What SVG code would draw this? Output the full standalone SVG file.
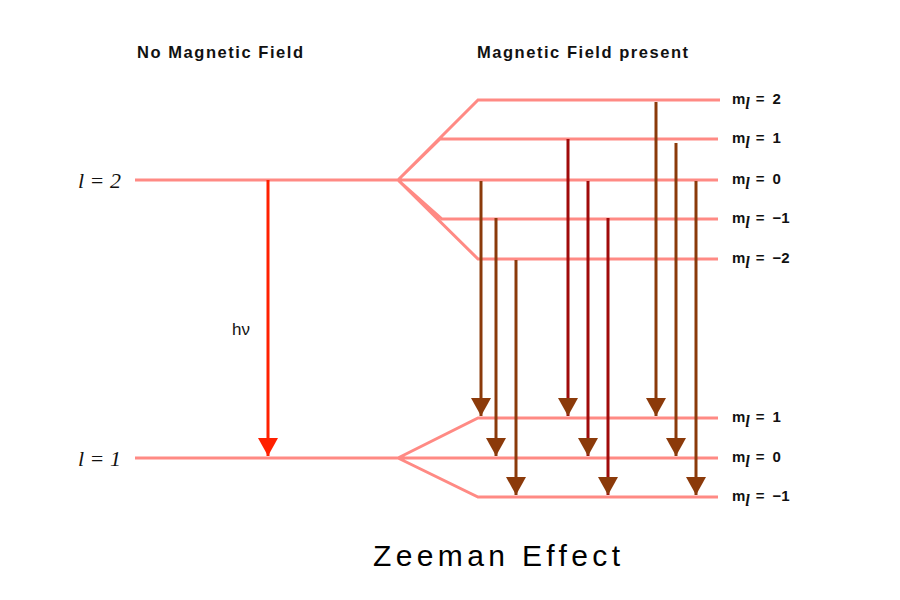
<svg xmlns="http://www.w3.org/2000/svg" width="900" height="600" viewBox="0 0 900 600">
<defs>
<style>
.lv{stroke:#FF8A84;stroke-width:3;fill:none}
.t{font-family:"Liberation Sans",Arial,sans-serif;font-weight:bold;font-size:16.5px;fill:#111}
.ml{font-family:"Liberation Sans",Arial,sans-serif;font-weight:bold;font-size:15px;fill:#111}
.sub{font-family:"Liberation Serif",serif;font-style:italic;font-size:16px}
.lab{font-family:"Liberation Serif",serif;font-style:italic;font-size:22px;fill:#111}
.br{stroke:#8B3A0A;stroke-width:3}
.dr{stroke:#A00A0A;stroke-width:3}
</style>
<marker id="ah" markerWidth="20" markerHeight="18" viewBox="0 0 20 18" refX="10" refY="18" markerUnits="userSpaceOnUse"><path d="M0 0H20L10 18Z" fill="#8B3A0A"/></marker>
<marker id="ahr" markerWidth="20" markerHeight="18" viewBox="0 0 20 18" refX="10" refY="18" markerUnits="userSpaceOnUse"><path d="M0 0H20L10 18Z" fill="#FF2000"/></marker>
</defs>
<rect width="900" height="600" fill="#fff"/>
<g id="levels">
<path class="lv" d="M135 180H718M398 180L478 100H720M398 180L440 139H718M398 180L442 219H718M398 180L478 259H718"/>
<path class="lv" d="M135 458H718M398 458L478 418H718M398 458L478 497H718"/>
</g>
<g id="titles">
<text class="t" x="137" y="58" textLength="166">No Magnetic Field</text>
<text class="t" x="477" y="58" textLength="211">Magnetic Field present</text>
<text class="lab" x="78" y="188">l = 2</text>
<text class="lab" x="78" y="466">l = 1</text>
<text x="232" y="335" font-family="Liberation Sans,sans-serif" font-size="17" fill="#111">hν</text>
<text x="373" y="566" textLength="247" font-family="Liberation Sans,Arial,sans-serif" font-size="30" fill="#000">Zeeman Effect</text>
</g>
<g id="mlabels" class="ml">
<text x="732" y="104">m<tspan class="sub" dy="5">l</tspan><tspan dy="-5" dx="6">=</tspan><tspan dx="8">2</tspan></text>
<text x="732" y="143">m<tspan class="sub" dy="5">l</tspan><tspan dy="-5" dx="6">=</tspan><tspan dx="8">1</tspan></text>
<text x="732" y="184">m<tspan class="sub" dy="5">l</tspan><tspan dy="-5" dx="6">=</tspan><tspan dx="8">0</tspan></text>
<text x="732" y="223">m<tspan class="sub" dy="5">l</tspan><tspan dy="-5" dx="6">=</tspan><tspan dx="8">−1</tspan></text>
<text x="732" y="263">m<tspan class="sub" dy="5">l</tspan><tspan dy="-5" dx="6">=</tspan><tspan dx="8">−2</tspan></text>
<text x="732" y="422">m<tspan class="sub" dy="5">l</tspan><tspan dy="-5" dx="6">=</tspan><tspan dx="8">1</tspan></text>
<text x="732" y="462">m<tspan class="sub" dy="5">l</tspan><tspan dy="-5" dx="6">=</tspan><tspan dx="8">0</tspan></text>
<text x="732" y="501">m<tspan class="sub" dy="5">l</tspan><tspan dy="-5" dx="6">=</tspan><tspan dx="8">−1</tspan></text>
</g>
<g id="connectors">
<line x1="268" y1="180" x2="268" y2="456" stroke="#FF2000" stroke-width="3" marker-end="url(#ahr)"/>
<line class="br" x1="481" y1="181" x2="481" y2="416" marker-end="url(#ah)"/>
<line class="br" x1="496" y1="218" x2="496" y2="456" marker-end="url(#ah)"/>
<line class="br" x1="516" y1="260" x2="516" y2="495" marker-end="url(#ah)"/>
<line class="dr" x1="568" y1="139" x2="568" y2="416" marker-end="url(#ah)"/>
<line class="dr" x1="588" y1="181" x2="588" y2="456" marker-end="url(#ah)"/>
<line class="dr" x1="608" y1="218" x2="608" y2="495" marker-end="url(#ah)"/>
<line class="br" x1="656" y1="102" x2="656" y2="416" marker-end="url(#ah)"/>
<line class="br" x1="676" y1="143" x2="676" y2="456" marker-end="url(#ah)"/>
<line class="br" x1="696" y1="181" x2="696" y2="495" marker-end="url(#ah)"/>
</g>
</svg>
